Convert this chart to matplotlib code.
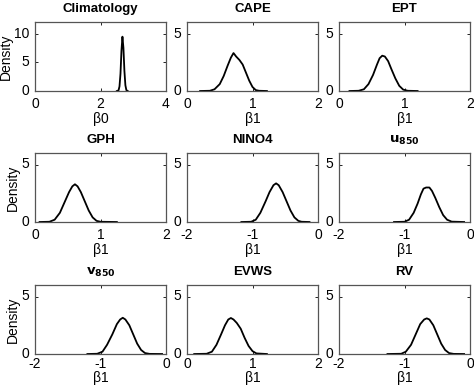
import matplotlib
matplotlib.use("Agg")
import matplotlib.pyplot as plt

plt.rcParams['font.family'] = ['Liberation Sans', 'DejaVu Sans']
plt.rcParams['axes.unicode_minus'] = False

# panel titles, x labels, axis limits
titles = ["Climatology", "CAPE", "EPT", "GPH", "NINO4",
          r"$\mathbf{u_{850}}$", r"$\mathbf{v_{850}}$", "EVWS", "RV"]
xlabels = ["β0"] + ["β1"] * 8
xlims = [(0, 4), (0, 2), (0, 2), (0, 2), (-2, 0), (-2, 0), (-2, 0), (0, 2), (-2, 0)]
ylims = [(0, 12)] + [(0, 6)] * 8
xticks = [[0, 2, 4], [0, 1, 2], [0, 1, 2], [0, 1, 2], [-2, -1, 0],
          [-2, -1, 0], [-2, -1, 0], [0, 1, 2], [-2, -1, 0]]
yticks = [[0, 5, 10]] + [[0, 5]] * 8

# posterior density curves
clim_x = [2.50, 2.55, 2.58, 2.61, 2.64, 2.67, 2.70, 2.73, 2.76, 2.79, 2.83]
clim_y = [0, 0.1, 0.8, 3.0, 7.0, 9.45, 7.5, 3.5, 1.0, 0.15, 0]

cape_x = [0.2, 0.35, 0.42, 0.5, 0.56, 0.62, 0.67, 0.71, 0.75, 0.8, 0.85, 0.9, 0.95, 1.0, 1.05, 1.1, 1.22]
cape_y = [0, 0.02, 0.15, 0.6, 1.3, 2.2, 2.9, 3.3, 3.0, 2.7, 2.3, 1.6, 0.9, 0.35, 0.08, 0.02, 0]

ept_x = [0.16, 0.3, 0.38, 0.45, 0.52, 0.58, 0.62, 0.66, 0.7, 0.75, 0.8, 0.86, 0.92, 0.98, 1.05, 1.2]
ept_y = [0, 0.02, 0.15, 0.6, 1.4, 2.3, 2.85, 3.07, 3.0, 2.6, 1.9, 1.1, 0.45, 0.12, 0.02, 0]

gph_x = [0.07, 0.22, 0.3, 0.38, 0.45, 0.52, 0.57, 0.61, 0.65, 0.7, 0.76, 0.82, 0.88, 0.94, 1.0, 1.25]
gph_y = [0, 0.02, 0.2, 0.8, 1.7, 2.6, 3.1, 3.28, 3.1, 2.6, 1.8, 1.0, 0.4, 0.1, 0.02, 0]

nino_x = [-1.17, -1.02, -0.95, -0.88, -0.8, -0.74, -0.68, -0.64, -0.6, -0.54, -0.48, -0.42, -0.36, -0.3, -0.25, -0.13]
nino_y = [0, 0.02, 0.2, 0.8, 1.8, 2.6, 3.2, 3.36, 3.2, 2.6, 1.8, 1.0, 0.4, 0.1, 0.02, 0]

u850_x = [-1.16, -1.0, -0.93, -0.86, -0.8, -0.75, -0.71, -0.67, -0.62, -0.58, -0.53, -0.47, -0.41, -0.35, -0.28, -0.09]
u850_y = [0, 0.02, 0.2, 0.8, 1.6, 2.4, 2.9, 3.0, 3.0, 2.7, 2.1, 1.3, 0.6, 0.2, 0.03, 0]

v850_x = [-1.2, -1.05, -0.97, -0.9, -0.82, -0.75, -0.7, -0.66, -0.62, -0.56, -0.5, -0.44, -0.38, -0.32, -0.25, -0.06]
v850_y = [0, 0.02, 0.2, 0.8, 1.7, 2.6, 3.0, 3.15, 3.0, 2.5, 1.7, 0.9, 0.35, 0.08, 0.01, 0]

evws_x = [0.11, 0.3, 0.38, 0.45, 0.52, 0.58, 0.63, 0.67, 0.71, 0.76, 0.82, 0.88, 0.94, 1.0, 1.06, 1.22]
evws_y = [0, 0.02, 0.2, 0.8, 1.7, 2.5, 3.0, 3.13, 3.0, 2.7, 2.2, 1.4, 0.7, 0.25, 0.05, 0]

rv_x = [-1.26, -1.05, -0.98, -0.9, -0.83, -0.76, -0.7, -0.66, -0.62, -0.56, -0.5, -0.44, -0.38, -0.32, -0.25, -0.09]
rv_y = [0, 0.02, 0.2, 0.8, 1.7, 2.6, 3.0, 3.1, 3.0, 2.5, 1.7, 0.9, 0.35, 0.08, 0.01, 0]

curves = [(clim_x, clim_y), (cape_x, cape_y), (ept_x, ept_y), (gph_x, gph_y),
          (nino_x, nino_y), (u850_x, u850_y), (v850_x, v850_y),
          (evws_x, evws_y), (rv_x, rv_y)]

W, H = 474, 387
fig = plt.figure(figsize=(W / 100, H / 100), dpi=100)

lefts = [35, 187, 339]
tops = [22, 153, 285]
aw, ah = 131, 69
# the bottom row sits tighter against its labels in the original
xpads = [4, 4, 2]
labelpads = [1, 1, 0.5]

for i, (xs, ys) in enumerate(curves):
    r, c = divmod(i, 3)
    ax = fig.add_axes([lefts[c] / W, 1 - (tops[r] + ah) / H, aw / W, ah / H])
    ax.plot(xs, ys, color='black', lw=1.3)
    ax.set_xlim(*xlims[i])
    ax.set_ylim(*ylims[i])
    ax.set_xticks(xticks[i])
    ax.set_yticks(yticks[i])
    ax.tick_params(direction='in', length=2.5, width=0.6, labelsize=10,
                   top=True, right=True, colors='black')
    ax.tick_params(axis='x', pad=xpads[r])
    ax.tick_params(axis='y', pad=4)
    for lab in ax.get_yticklabels():
        lab.set_verticalalignment('center')
    for s in ax.spines.values():
        s.set_color('#555555')
        s.set_linewidth(0.9)
    ax.set_title(titles[i], fontsize=9.5, fontweight='bold', pad=7)
    ax.set_xlabel(xlabels[i], fontsize=10, labelpad=labelpads[r])
    if c == 0:
        ax.set_ylabel("Density", fontsize=10, labelpad=1)

fig.savefig("out.png", dpi=100)
